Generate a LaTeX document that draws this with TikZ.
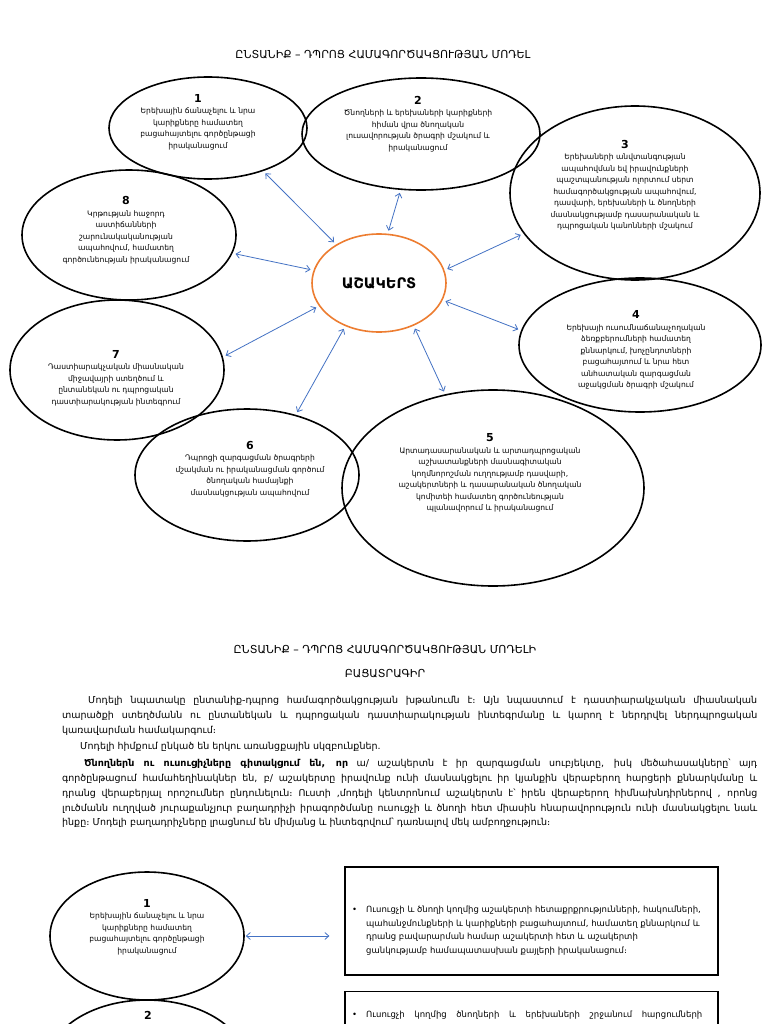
\documentclass[tikz,border=0pt]{standalone}
\usepackage{fontspec}
\setmainfont{DejaVu Sans}
\usepackage{tikz}
\usetikzlibrary{shapes.geometric, arrows, positioning, calc}
\usetikzlibrary{arrows.meta}
\definecolor{linkblue}{RGB}{68,114,196}
\definecolor{studorange}{RGB}{237,125,49}
\tikzstyle{title} = [font=\fontsize{11}{13}\selectfont, inner sep=0pt]
\tikzstyle{bubble} = [ellipse, draw=black, line width=1.6pt, inner sep=0pt]
\tikzstyle{student} = [ellipse, draw=studorange, line width=1.6pt, inner sep=0pt, minimum width=134pt, minimum height=98pt, font=\fontsize{14.5}{16}\selectfont\bfseries]
\tikzstyle{note} = [align=center, inner sep=0pt, font=\fontsize{7.6}{11.5}\selectfont]
\tikzstyle{textbox} = [rectangle, draw=black, line width=1.2pt, minimum width=373pt, minimum height=108pt]
\tikzstyle{item} = [anchor=north west, inner sep=0pt, font=\fontsize{8.5}{13.5}\selectfont]
\tikzstyle{arrow} = [linkblue, line width=.8pt, {Straight Barb[length=4pt,width=7pt]}-{Straight Barb[length=4pt,width=7pt]}, shorten <=3pt, shorten >=3pt]
\newcommand{\bubnum}[1]{{\fontsize{11}{13}\selectfont\bfseries #1}}

\begin{document}
\begin{tikzpicture}[x=1pt, y=-1pt]
            \useasboundingbox (0,0) rectangle (768,1024);
            \clip (0,0) rectangle (768,1024);
            \fill [white] (0,0) rectangle (768,1024);

            \node (title1) [title] at (383,55) {ԸՆՏԱՆԻՔ – ԴՊՐՈՑ ՀԱՄԱԳՈՐԾԱԿՑՈՒԹՅԱՆ ՄՈԴԵԼ};

            \node (goal1) [bubble, minimum width=198pt, minimum height=102pt] at (208,128) {};
            \node (goal2) [bubble, minimum width=238pt, minimum height=112pt] at (421,134) {};
            \node (goal3) [bubble, minimum width=250pt, minimum height=174pt] at (635,193) {};
            \node (goal8) [bubble, minimum width=214pt, minimum height=130pt] at (129,235) {};
            \node (goal4) [bubble, minimum width=242pt, minimum height=134pt] at (640,345) {};
            \node (goal7) [bubble, minimum width=214pt, minimum height=140pt] at (117,370) {};
            \node (goal6) [bubble, minimum width=224pt, minimum height=132pt] at (247,475) {};
            \node (goal5) [bubble, minimum width=302pt, minimum height=196pt] at (493,488) {};
            \node (stud) [student] at (379,283) {ԱՇԱԿԵՐՏ};

            \node (txt1) [note] at (198,122) {\bubnum{1}\\Երեխային ճանաչելու և  նրա\\կարիքները  համատեղ\\բացահայտելու գործընթացի\\իրականացում};
            \node (txt2) [note] at (418,124) {\bubnum{2}\\Ծնողների և երեխաների  կարիքների\\հիման վրա ծնողական\\լուսավորության ծրագրի  մշակում և\\իրականացում};
            \node (txt3) [note] at (625,185) {\bubnum{3}\\Երեխաների անվտանգության\\ապահովման եվ իրավունքների\\պաշտպանության ոլորտում սերտ\\համագործակցության ապահովում,\\դասվարի,  երեխաների և ծնողների\\մասնակցությամբ դասարանական և\\դպրոցական կանոնների մշակում};
            \node (txt4) [note] at (636,350) {\bubnum{4}\\Երեխայի ուսումնաճանաչողական\\ձեռքբերումների համատեղ\\քննարկում, խոչընդոտների\\բացահայտում և նրա հետ\\անհատական զարգացման\\աջակցման ծրագրի մշակում};
            \node (txt5) [note] at (490,473) {\bubnum{5}\\Արտադասարանական և  արտադպրոցական\\աշխատանքների  մասնագիտական\\կողմնորոշման ուղղությամբ դասվարի,\\աշակերտների և դասարանական ծնողական\\կոմիտեի համատեղ գործունեության\\պլանավորում և իրականացում};
            \node (txt6) [note] at (250,469) {\bubnum{6}\\Դպրոցի զարգացման ծրագրերի\\մշակման ու իրականացման գործում\\ծնողական համայնքի\\մասնակցության ապահովում};
            \node (txt7) [note] at (116,378) {\bubnum{7}\\Դաստիարակչական միասնական\\միջավայրի  ստեղծում և\\ընտանեկան ու դպրոցական\\դաստիարակության ինտեգրում};
            \node (txt8) [note] at (126,230) {\bubnum{8}\\Կրթության հաջորդ\\աստիճանների\\շարունակականության\\ապահովում, համատեղ\\գործունեության իրականացում};

            \draw [arrow] (stud.138) -- (goal1.-38);
            \draw [arrow] (stud.80) -- (goal2.250);
            \draw [arrow] (stud.11) -- (goal3.200);
            \draw [arrow] (stud.-15) -- (goal4.173);
            \draw [arrow] (stud.-51) -- (goal5.117);
            \draw [arrow] (stud.232) -- (goal6.51);
            \draw [arrow] (stud.201) -- (goal7.7);
            \draw [arrow] (stud.169) -- (goal8.-10);

            \node (title2) [title] at (385,650) {ԸՆՏԱՆԻՔ – ԴՊՐՈՑ ՀԱՄԱԳՈՐԾԱԿՑՈՒԹՅԱՆ ՄՈԴԵԼԻ};
            \node (title3) [title, below=15pt of title2] {ԲԱՑԱՏՐԱԳԻՐ};

            \node (para) [anchor=north west, text width=695pt, align=justify, inner sep=0pt, font=\fontsize{9.5}{14.8}\selectfont] at (62,696) {%
\hspace*{26pt}Մոդելի նպատակը ընտանիք-դպրոց  համագործակցության խթանումն է։ Այն նպաստում է դաստիարակչական միասնական\linebreak
տարածքի ստեղծմանն ու ընտանեկան և դպրոցական դաստիարակության ինտեգրմանը և կարող է ներդրվել ներդպրոցական\linebreak
կառավարման համակարգում։\par\vspace{2pt}
\hspace*{18pt}Մոդելի հիմքում ընկած են   երկու առանցքային սկզբունքներ.\par\vspace{2pt}
\hspace*{22pt}{\bfseries Ծնողներն ու ուսուցիչները գիտակցում են, որ}   ա/ աշակերտն է  իր զարգացման սուբյեկտը, իսկ մեծահասակները՝ այդ\linebreak
գործընթացում համահեղինակներ են,   բ/ աշակերտը իրավունք ունի մասնակցելու  իր կյանքին վերաբերող հարցերի քննարկմանը և\linebreak
դրանց վերաբերյալ  որոշումներ ընդունելուն։ Ուստի ,մոդելի կենտրոնում աշակերտն է՝ իրեն վերաբերող հիմնախնդիրներով , որոնց\linebreak
լուծմանն ուղղված յուրաքանչյուր բաղադրիչի իրագործմանը ուսուցչի և ծնողի հետ միասին  հնարավորություն ունի մասնակցելու նաև\linebreak
ինքը։ Մոդելի բաղադրիչները լրացնում են միմյանց և ինտեգրվում՝ դառնալով մեկ ամբողջություն։};

            \node (goal2b) [bubble, minimum width=200pt, minimum height=130pt] at (147,1065) {};
            \node (goal1b) [bubble, minimum width=194pt, minimum height=128pt] at (147,936) {};
            \node (txt1b) [note] at (147,927) {\bubnum{1}\\Երեխային ճանաչելու և  նրա\\կարիքները  համատեղ\\բացահայտելու գործընթացի\\իրականացում};
            \node (txt2b) [note] at (148,1015) {\bubnum{2}};

            \node (box1) [textbox] at (531.5,921) {};
            \node (box2) [textbox, below=15pt of box1] {};
            \node (item1) [item] at (352,903) {\begin{tabular}{@{}l@{\hspace{9pt}}l@{}}
                \textbullet & Ուսուցչի և ծնողի կողմից աշակերտի  հետաքրքրությունների, հակումների,\\
                & պահանջմունքների և կարիքների բացահայտում, համատեղ քննարկում և\\
                & դրանց բավարարման համար աշակերտի հետ  և  աշակերտի\\
                & ցանկությամբ համապատասխան քայլերի իրականացում։
            \end{tabular}};
            \node (item2) [item] at (352,1008) {\begin{tabular}{@{}l@{\hspace{9pt}}l@{}}
                \textbullet & \makebox[336pt][s]{Ուսուցչի   կողմից ծնողների և երեխաների   շրջանում հարցումների}
            \end{tabular}};

            \draw [arrow, shorten <=1pt, shorten >=15pt] (goal1b.east) -- (goal1b.east -| box1.west);
        \end{tikzpicture}
\end{document}
